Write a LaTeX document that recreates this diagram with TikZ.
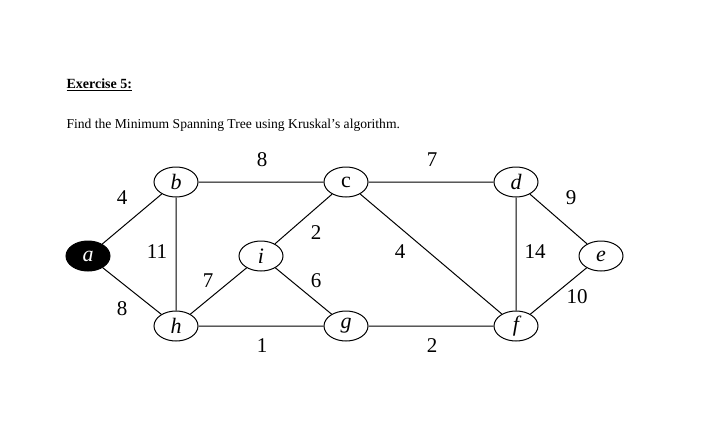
\documentclass[tikz,border=0pt]{standalone}
\usepackage{fontspec}
\setmainfont{Liberation Serif}
\usepackage{tikz}
\usetikzlibrary{shapes.geometric}
\begin{document}
\begin{tikzpicture}[x=1pt,y=-1pt,
  vtx/.style={ellipse,draw,line width=1pt,minimum width=44pt,minimum height=30pt,inner sep=0pt,font=\fontsize{22}{22}\selectfont\itshape},
  edge/.style={line width=1pt},
  wt/.style={font=\fontsize{21}{21}\selectfont}]
\useasboundingbox (0,0) rectangle (714,426);
\node[anchor=west,font=\fontsize{14}{14}\selectfont\bfseries] (t1) at (63,85) {\underline{Exercise 5:}};
\node[anchor=west,font=\fontsize{13.6}{14}\selectfont] (t2) at (63,125) {Find the Minimum Spanning Tree using Kruskal’s algorithm.};
\node[vtx,fill=black,text=white] (a) at (88,256) {a};
\node[vtx] (b) at (176,182) {b};
\node[vtx] (c) at (346,182) {\upshape c};
\node[vtx] (d) at (516,182) {d};
\node[vtx] (e) at (601,256) {e};
\node[vtx] (i) at (261,256) {i};
\node[vtx] (h) at (176,326) {h};
\node[vtx] (g) at (346,326) {g};
\node[vtx] (f) at (516,326) {f};
\draw[edge] (a)--(b) (a)--(h) (b)--(c) (b)--(h) (c)--(d) (c)--(i) (c)--(f)
  (d)--(e) (d)--(f) (e)--(f) (i)--(h) (i)--(g) (h)--(g) (g)--(f);
\node[wt] (w1) at (262,160) {8};
\node[wt] (w2) at (432,160) {7};
\node[wt] (w3) at (122,198) {4};
\node[wt] (w4) at (571,198) {9};
\node[wt] (w5) at (157,252) {11};
\node[wt] (w6) at (316,233) {2};
\node[wt] (w7) at (400,252) {4};
\node[wt] (w8) at (535,252) {14};
\node[wt] (w9) at (208,281) {7};
\node[wt] (w10) at (316,281) {6};
\node[wt] (w11) at (577,297) {10};
\node[wt] (w12) at (122,309) {8};
\node[wt] (w13) at (262,346) {1};
\node[wt] (w14) at (432,346) {2};
\end{tikzpicture}
\end{document}
